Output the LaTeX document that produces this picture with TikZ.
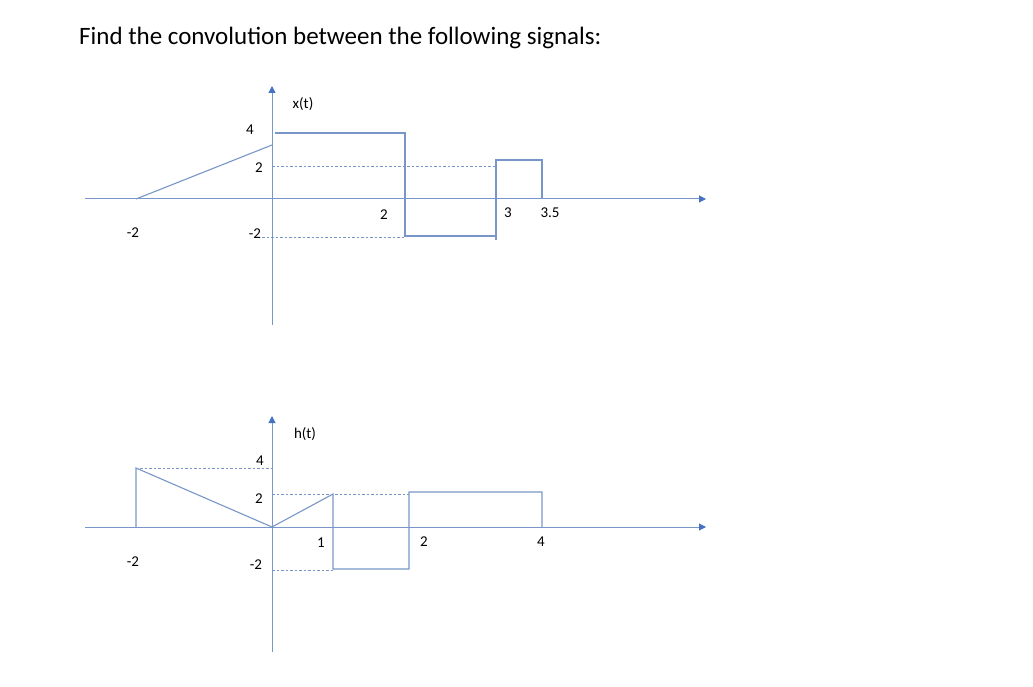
\documentclass[tikz,border=0pt]{standalone}
\usepackage{fontspec}
\setmainfont{Carlito}
\usetikzlibrary{arrows.meta}
\definecolor{ln}{RGB}{120,150,200}
\definecolor{ax}{RGB}{68,114,196}
\begin{document}
\begin{tikzpicture}[x=1pt,y=-1pt,
  sig/.style={ln,line width=1.1pt},
  axis/.style={ln,line width=1pt,-{Triangle[length=7pt,width=7pt,fill=ax,color=ax]}},
  dsh/.style={ln,line width=0.9pt,dash pattern=on 2.5pt off 2pt},
  lab/.style={font=\fontsize{15pt}{17pt}\selectfont,inner sep=0pt}]
\useasboundingbox (0,0) rectangle (1033,687);
\node[anchor=west,inner sep=0pt,font=\fontsize{25pt}{29pt}\selectfont] (title) at (79,38) {Find the convolution between the following signals:};
% top
\coordinate (xa0) at (85,199); \coordinate (xa1) at (706,199);
\coordinate (ya0) at (272,325); \coordinate (ya1) at (272,86);
\draw[axis] (xa0) -- (xa1);
\draw[axis] (ya0) -- (ya1);
\draw[dsh] (272,166) -- (496,166);
\draw[dsh] (262,237) -- (405,237);
\draw[sig] (136,199) -- (272,145);
\draw[sig] (275,133) -- (405,133) -- (405,236) -- (496,236);
\draw[sig] (496,240) -- (496,160) -- (542,160) -- (542,199);
\node[lab] (xt) at (303,104) {x(t)};
\node[lab] (t4) at (250,130) {4};
\node[lab] (t2) at (259,168) {2};
\node[lab] (tx2) at (384,215) {2};
\node[lab] (tm2a) at (133,233) {-2};
\node[lab] (tm2b) at (255,234) {-2};
\node[lab] (t3) at (508,213) {3};
\node[lab] (t35) at (550,213) {3.5};
% bottom
\coordinate (xb0) at (85,527); \coordinate (xb1) at (706,527);
\coordinate (yb0) at (272,652); \coordinate (yb1) at (272,416);
\draw[axis] (xb0) -- (xb1);
\draw[axis] (yb0) -- (yb1);
\draw[dsh] (140,468) -- (272,468);
\draw[dsh] (272,494) -- (409,494);
\draw[dsh] (272,570) -- (333,570);
\draw[sig] (136,527) -- (136,468) -- (272,527) -- (333,494) -- (333,569) -- (409,569) -- (409,492) -- (542,492) -- (542,527);
\node[lab] (ht) at (305,434) {h(t)};
\node[lab] (b4) at (260,461) {4};
\node[lab] (b2) at (259,499) {2};
\node[lab] (b1) at (321,543) {1};
\node[lab] (bx2) at (424,542) {2};
\node[lab] (bx4) at (541,542) {4};
\node[lab] (bm2a) at (133,562) {-2};
\node[lab] (bm2b) at (256,565) {-2};
\end{tikzpicture}
\end{document}
